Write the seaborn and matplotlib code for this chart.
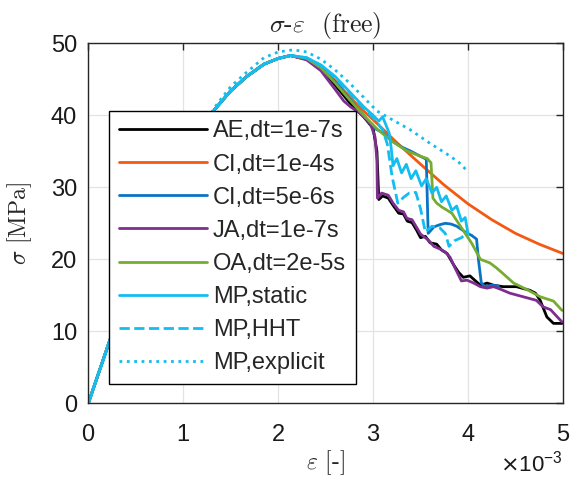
import numpy as np
import matplotlib
matplotlib.use("Agg")
import matplotlib.pyplot as plt
import seaborn as sns
from matplotlib.ticker import ScalarFormatter, MultipleLocator

# strain values are in units of 1e-3, stress in MPa

# shared loading branch (all curves coincide here)
rise_eps = [0.0, 0.22, 0.5, 0.75, 1.0, 1.33, 1.5, 1.67, 1.85, 2.0, 2.13]
rise_sig = [0.0, 8.5, 19.0, 27.0, 33.5, 40.8, 43.4, 45.4, 47.1, 47.9, 48.3]

ae_eps = [2.3, 2.45, 2.6, 2.75, 2.9, 3.0, 3.04, 3.06, 3.1, 3.16, 3.21, 3.27, 3.32,
          3.36, 3.41, 3.46, 3.5, 3.55, 3.6, 3.67, 3.72, 3.78, 3.85, 3.9, 3.95,
          4.02, 4.07, 4.13, 4.2, 4.27, 4.37, 4.51, 4.65, 4.71, 4.76, 4.83, 4.9, 4.99]
ae_sig = [47.8, 46.5, 44.2, 41.8, 39.8, 38.2, 35.0, 28.3, 28.8, 28.5, 27.5, 26.4, 26.3,
          25.3, 25.1, 24.0, 23.0, 23.2, 22.3, 22.1, 21.3, 20.8, 19.2, 18.2, 17.5,
          17.7, 17.1, 16.4, 16.7, 16.4, 16.2, 16.2, 15.7, 15.3, 14.3, 12.0, 11.1, 11.1]

ci4_eps = [2.3, 2.45, 2.6, 2.75, 2.9, 3.0, 3.25, 3.5, 3.75, 4.0, 4.25, 4.5, 4.75, 5.0]
ci4_sig = [47.8, 46.7, 44.8, 42.6, 40.6, 39.4, 36.2, 33.2, 30.3, 27.7, 25.5, 23.6, 22.1, 20.8]

ci6_eps = [2.3, 2.45, 2.6, 2.75, 2.9, 3.0, 3.1, 3.2, 3.3, 3.4, 3.5, 3.56, 3.58,
           3.64, 3.7, 3.76, 3.82, 3.88, 3.97, 4.04, 4.09, 4.11, 4.14, 4.18, 4.25, 4.32]
ci6_sig = [47.9, 46.7, 44.7, 42.3, 40.0, 38.3, 37.6, 36.4, 35.6, 35.0, 34.3, 33.9, 23.6,
           24.5, 24.8, 25.0, 24.9, 24.6, 23.8, 23.3, 22.8, 19.9, 16.7, 16.2, 16.4, 16.3]

ja_eps = [2.3, 2.45, 2.6, 2.69, 2.76, 2.86, 2.97, 3.02, 3.04, 3.045, 3.09, 3.16, 3.21,
          3.27, 3.32, 3.355, 3.41, 3.5, 3.58, 3.64, 3.71, 3.76, 3.81, 3.87, 3.93,
          3.99, 4.06, 4.13, 4.2, 4.27, 4.35, 4.44, 4.58, 4.72, 4.79, 4.87, 4.94, 4.99]
ja_sig = [47.7, 46.2, 43.6, 42.0, 41.2, 40.3, 38.9, 37.0, 33.8, 28.5, 29.2, 28.9, 27.8,
          26.8, 26.6, 25.7, 25.5, 23.5, 22.7, 21.8, 21.4, 21.0, 20.3, 18.6, 17.0,
          17.1, 16.7, 16.2, 16.0, 16.2, 15.8, 15.3, 14.8, 14.3, 13.4, 13.0, 12.0, 11.3]

oa_eps = [2.3, 2.45, 2.6, 2.75, 2.9, 3.05, 3.2, 3.35, 3.5, 3.57, 3.61, 3.63, 3.67,
          3.72, 3.83, 3.9, 3.97, 4.04, 4.13, 4.23, 4.3, 4.37, 4.48, 4.62, 4.76, 4.9, 4.99]
oa_sig = [47.9, 46.6, 44.5, 42.2, 40.0, 38.0, 36.4, 35.1, 34.3, 34.0, 33.4, 28.5, 27.8,
          27.3, 26.4, 25.0, 23.6, 22.2, 20.0, 19.5, 18.8, 18.0, 16.7, 15.8, 14.8, 14.2, 12.9]

mps_eps = [2.3, 2.45, 2.6, 2.75, 2.9, 3.0, 3.06, 3.1, 3.14, 3.17, 3.19, 3.21, 3.25,
           3.3, 3.35, 3.4, 3.45, 3.51, 3.56, 3.62, 3.67, 3.72, 3.77, 3.83, 3.88,
           3.93, 3.97, 4.0]
mps_sig = [48.0, 47.0, 45.4, 43.3, 41.2, 40.0, 39.2, 39.8, 38.5, 37.5, 35.5, 33.0, 34.0,
           32.0, 33.2, 31.2, 32.3, 30.2, 31.2, 29.2, 30.0, 28.0, 28.8, 26.8, 27.4,
           25.3, 25.8, 23.5]

hht_eps = [2.3, 2.45, 2.6, 2.75, 2.9, 3.0, 3.1, 3.15, 3.2, 3.26, 3.32, 3.38, 3.45,
           3.5, 3.55, 3.62, 3.7, 3.76, 3.8, 3.86, 3.93, 4.0]
hht_sig = [48.0, 46.9, 45.2, 43.1, 41.0, 39.7, 38.0, 36.0, 31.5, 27.8, 28.6, 29.2, 29.3,
           27.0, 23.8, 24.6, 24.4, 23.6, 21.8, 22.6, 23.0, 23.8]

# explicit run sits slightly above the others, also on the loading branch
exp_eps = [0.0, 0.22, 0.5, 0.75, 1.0, 1.33, 1.5, 1.67, 1.85, 2.0, 2.16, 2.3, 2.45,
           2.6, 2.75, 2.9, 3.04, 3.2, 3.39, 3.6, 3.78, 3.9, 3.99]
exp_sig = [0.0, 8.5, 19.0, 27.0, 33.6, 41.1, 44.0, 46.0, 48.0, 48.8, 49.1, 48.8, 47.8,
           46.3, 44.5, 42.5, 40.6, 39.4, 38.0, 36.1, 34.6, 33.5, 32.3]

labels = ["AE,dt=1e-7s", "CI,dt=1e-4s", "CI,dt=5e-6s", "JA,dt=1e-7s",
          "OA,dt=2e-5s", "MP,static", "MP,HHT", "MP,explicit"]
colors = ["#000000", "#f25a12", "#0a74c4", "#7e2f8e",
          "#77ac30", "#14bdf0", "#14bdf0", "#14bdf0"]
styles = ["-", "-", "-", "-", "-", "-", "--", ":"]

series = [
    (rise_eps + ae_eps, rise_sig + ae_sig),
    (rise_eps + ci4_eps, rise_sig + ci4_sig),
    (rise_eps + ci6_eps, rise_sig + ci6_sig),
    (rise_eps + ja_eps, rise_sig + ja_sig),
    (rise_eps + oa_eps, rise_sig + oa_sig),
    (rise_eps + mps_eps, rise_sig + mps_sig),
    (rise_eps + hht_eps, rise_sig + hht_sig),
    (exp_eps, exp_sig),
]

sns.set_theme(style="white")
plt.rcParams["font.family"] = ["Liberation Sans", "DejaVu Sans"]
plt.rcParams["axes.edgecolor"] = "#262626"
plt.rcParams["axes.linewidth"] = 1.0

fig = plt.figure(figsize=(5.76, 4.84), dpi=100)
ax = fig.add_axes([0.1533, 0.1667, 0.8241, 0.7438])

for (eps, sig), lab, col, ls in zip(series, labels, colors, styles):
    sns.lineplot(x=np.array(eps) * 1e-3, y=sig, ax=ax, color=col, linestyle=ls,
                 linewidth=2, label=lab, sort=False, estimator=None)

ax.set_xlim(0, 0.005)
ax.set_ylim(0, 50)
ax.xaxis.set_major_locator(MultipleLocator(0.001))
ax.yaxis.set_major_locator(MultipleLocator(10))
fmt = ScalarFormatter(useMathText=True)
fmt.set_powerlimits((-2, 2))
ax.xaxis.set_major_formatter(fmt)

ax.grid(True, color="#e3e3e3", linewidth=0.9)
ax.set_axisbelow(True)
ax.tick_params(direction="in", top=True, right=True, length=5, width=1,
               color="#262626", labelsize=17, labelcolor="#1a1a1a")
ax.tick_params(axis="x", pad=15)
ax.tick_params(axis="y", pad=8)
ax.xaxis.get_offset_text().set_fontsize(16)
for sp in ax.spines.values():
    sp.set_visible(True)
    sp.set_color("#262626")

ax.set_title(r"$\sigma$-$\varepsilon$  (free)", fontsize=18.5, fontfamily="cmr10",
             math_fontfamily="cm", pad=8)
ax.set_xlabel(r"$\varepsilon$ [-]", fontsize=17, fontfamily="cmr10", math_fontfamily="cm")
ax.set_ylabel(r"$\sigma$ [MPa]", fontsize=17, fontfamily="cmr10", math_fontfamily="cm")
ax.xaxis.set_label_coords(0.5, -0.125)
ax.yaxis.set_label_coords(-0.115, 0.5)

leg = ax.legend(loc="upper left", bbox_to_anchor=(0.044, 0.812), borderaxespad=0,
                fontsize=17, handlelength=3.75, handletextpad=0.25, labelspacing=0.47,
                borderpad=0.4, frameon=True, fancybox=False, framealpha=1,
                edgecolor="black")
leg.get_frame().set_linewidth(1.0)

fig.savefig("out.png", dpi=100)
plt.close(fig)
